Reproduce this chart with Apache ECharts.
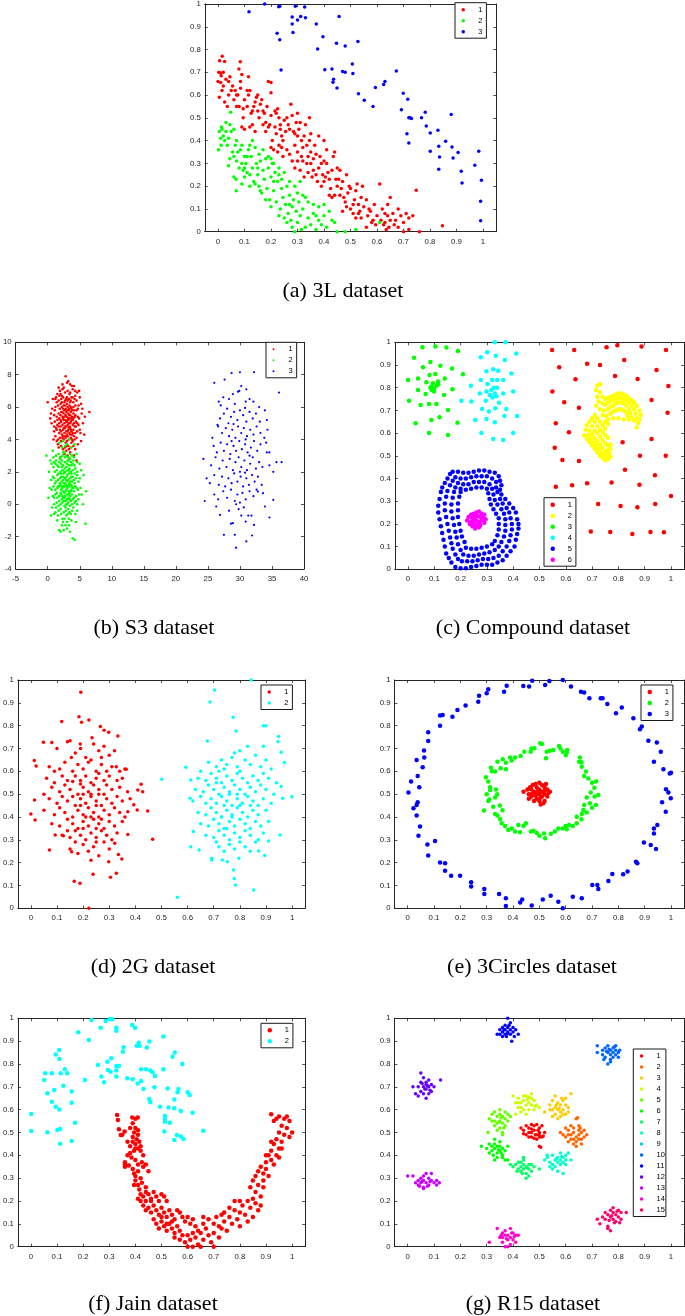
<!DOCTYPE html>
<html>
<head>
<meta charset="utf-8">
<script src="https://cdn.jsdelivr.net/npm/echarts@6/dist/echarts.min.js"></script>
<style>
  html, body { margin: 0; padding: 0; background: #fff; }
  #main { width: 685px; height: 1316px; }
</style>
</head>
<body>
<div id="main"></div>
<script>
// tick labels
var ticks01 = [0, 0.1, 0.2, 0.3, 0.4, 0.5, 0.6, 0.7, 0.8, 0.9, 1];
var s3XTicks = [-5, 0, 5, 10, 15, 20, 25, 30, 35, 40];
var s3YTicks = [-4, -2, 0, 2, 4, 6, 8, 10];

// (a) 3L
var l3Red = [[0.003,0.70],[0.01,0.697],[0.02,0.70],[0.016,0.771],[0.006,0.751],[0.025,0.748],[0.01,0.655],[0.02,0.64],[0.03,0.67],[0.04,0.66],[0.045,0.68],[0.005,0.59],[0.015,0.62],[0.025,0.57],[0.035,0.55],[0.05,0.62],[0.055,0.64],[0.04,0.6],[0.0,0.66],[0.012,0.685],
[0.06,0.58],[0.07,0.55],[0.075,0.6],[0.08,0.55],[0.085,0.66],[0.079,0.714],[0.084,0.746],[0.09,0.69],[0.085,0.63],[0.095,0.5],[0.1,0.45],[0.09,0.46],[0.07,0.6],[0.065,0.62],[0.1,0.58],[0.095,0.54],
[0.11,0.62],[0.115,0.6],[0.12,0.62],[0.125,0.52],[0.13,0.53],[0.14,0.57],[0.145,0.59],[0.115,0.68],[0.135,0.55],[0.14,0.44],[0.15,0.53],[0.13,0.47],[0.11,0.55],[0.15,0.6],[0.12,0.46],
[0.16,0.56],[0.165,0.58],[0.17,0.53],[0.175,0.52],[0.18,0.48],[0.185,0.55],[0.19,0.66],[0.2,0.655],[0.2,0.61],[0.19,0.46],[0.195,0.47],[0.18,0.44],[0.2,0.51],[0.205,0.4],[0.2,0.37],[0.21,0.36],[0.155,0.5],[0.17,0.47],
[0.215,0.53],[0.22,0.52],[0.225,0.54],[0.23,0.5],[0.235,0.47],[0.24,0.42],[0.23,0.38],[0.225,0.35],[0.245,0.33],[0.25,0.49],[0.245,0.4],[0.22,0.43],[0.215,0.46],[0.235,0.45],[0.24,0.37],
[0.26,0.5],[0.265,0.47],[0.27,0.45],[0.275,0.56],[0.28,0.51],[0.285,0.44],[0.29,0.43],[0.29,0.38],[0.3,0.52],[0.295,0.48],[0.3,0.42],[0.26,0.36],[0.27,0.34],[0.28,0.31],[0.255,0.44],[0.29,0.28],[0.3,0.31],[0.305,0.45],[0.3,0.35],
[0.31,0.48],[0.315,0.4],[0.32,0.37],[0.325,0.42],[0.33,0.47],[0.335,0.38],[0.34,0.33],[0.345,0.5],[0.35,0.43],[0.31,0.27],[0.32,0.31],[0.335,0.3],[0.34,0.26],[0.35,0.35],[0.345,0.4],[0.325,0.24],[0.315,0.33],[0.35,0.3],
[0.36,0.32],[0.365,0.38],[0.37,0.25],[0.375,0.22],[0.38,0.28],[0.385,0.33],[0.39,0.3],[0.395,0.25],[0.4,0.22],[0.38,0.42],[0.4,0.4],[0.36,0.27],[0.355,0.24],[0.37,0.34],[0.4,0.31],[0.39,0.2],
[0.41,0.3],[0.415,0.26],[0.42,0.23],[0.425,0.19],[0.43,0.27],[0.435,0.33],[0.44,0.35],[0.445,0.23],[0.45,0.2],[0.41,0.36],[0.42,0.16],[0.43,0.15],[0.44,0.16],[0.405,0.24],[0.45,0.28],
[0.46,0.27],[0.465,0.19],[0.47,0.22],[0.475,0.15],[0.48,0.13],[0.485,0.25],[0.49,0.17],[0.495,0.2],[0.5,0.1],[0.47,0.09],[0.485,0.11],[0.46,0.16],[0.5,0.19],[0.455,0.23],
[0.51,0.12],[0.515,0.14],[0.52,0.18],[0.525,0.21],[0.53,0.12],[0.535,0.09],[0.54,0.06],[0.545,0.2],[0.55,0.11],[0.52,0.06],[0.53,0.08],[0.54,0.15],[0.51,0.08],
[0.56,0.14],[0.565,0.07],[0.57,0.1],[0.58,0.04],[0.585,0.05],[0.59,0.12],[0.6,0.07],[0.595,0.03],[0.56,0.02],[0.575,0.09],
[0.61,0.21],[0.615,0.05],[0.62,0.1],[0.625,0.03],[0.63,0.08],[0.635,0.01],[0.64,0.07],[0.645,0.02],[0.65,0.15],[0.64,0.12],[0.63,0.04],[0.65,0.05],
[0.66,0.08],[0.665,0.03],[0.67,0.05],[0.68,0.1],[0.69,0.07],[0.7,0.04],[0.71,0.08],[0.72,0.01],[0.7,0.0],[0.68,0.02],[0.72,0.06],[0.748,0.182],[0.76,0.0],[0.847,0.026],[0.735,0.07]];
var l3Green = [[0.002,0.36],[0.01,0.41],[0.005,0.44],[0.015,0.45],[0.012,0.38],[0.02,0.42],[0.025,0.4],[0.03,0.44],[0.035,0.38],[0.04,0.41],[0.048,0.525],[0.05,0.44],[0.045,0.32],[0.055,0.35],[0.06,0.33],[0.065,0.38],[0.068,0.23],[0.07,0.31],[0.075,0.35],[0.08,0.28],[0.085,0.36],[0.09,0.3],[0.095,0.27],[0.1,0.33],[0.1,0.24],[0.105,0.3],[0.11,0.26],[0.115,0.36],[0.12,0.25],[0.125,0.33],[0.13,0.28],[0.135,0.22],[0.14,0.37],[0.145,0.3],[0.15,0.25],[0.155,0.2],[0.16,0.31],[0.165,0.17],[0.17,0.27],[0.175,0.23],[0.18,0.32],[0.185,0.19],[0.19,0.28],[0.195,0.14],[0.2,0.24],[0.205,0.3],[0.21,0.18],[0.215,0.26],[0.22,0.13],[0.225,0.22],[0.23,0.28],[0.235,0.1],[0.24,0.19],[0.245,0.15],[0.25,0.06],[0.255,0.12],[0.26,0.2],[0.265,0.08],[0.27,0.16],[0.275,0.05],[0.28,0.11],[0.285,0.14],[0.29,0.0],[0.295,0.09],[0.3,0.04],[0.305,0.13],[0.31,0.07],[0.315,0.01],[0.32,0.1],[0.33,0.02],[0.34,0.06],[0.35,0.03],[0.36,0.08],[0.37,0.01],[0.38,0.05],[0.39,0.03],[0.4,0.07],[0.41,0.02],[0.45,0.0],[0.44,0.04],[0.43,0.05],[0.48,0.0],[0.52,0.01],[0.61,0.04],[0.03,0.48],[0.013,0.46],[0.06,0.45],[0.045,0.47],[0.07,0.4],[0.09,0.38],[0.11,0.33],[0.12,0.38],[0.13,0.4],[0.155,0.34],[0.17,0.36],[0.19,0.33],[0.2,0.32],[0.21,0.3],[0.23,0.25],[0.25,0.26],[0.27,0.22],[0.29,0.2],[0.3,0.17],[0.32,0.16],[0.33,0.15],[0.36,0.12],[0.38,0.11],[0.4,0.12],[0.42,0.09],[0.26,0.04],[0.23,0.07],[0.2,0.11],[0.18,0.14],[0.16,0.18],[0.14,0.21],[0.12,0.2],[0.09,0.21],[0.06,0.24],[0.04,0.29],[0.069,0.18],[0.28,0.02],[0.31,0.22],[0.34,0.13],[0.37,0.07],[0.21,0.22],[0.24,0.23],[0.27,0.12],[0.15,0.28],[0.1,0.28]];
var l3Blue = [[0.176,1.0],[0.229,0.988],[0.233,0.99],[0.292,0.99],[0.327,0.987],[0.117,0.966],[0.28,0.943],[0.312,0.945],[0.33,0.94],[0.3,0.93],[0.28,0.912],[0.457,0.945],[0.371,0.912],[0.283,0.875],[0.223,0.872],[0.233,0.843],[0.396,0.856],[0.447,0.828],[0.48,0.815],[0.528,0.835],[0.376,0.802],[0.507,0.736],[0.403,0.711],[0.43,0.714],[0.47,0.704],[0.48,0.7],[0.509,0.695],[0.238,0.71],[0.436,0.67],[0.434,0.656],[0.449,0.631],[0.673,0.706],[0.63,0.66],[0.625,0.646],[0.594,0.633],[0.53,0.606],[0.552,0.577],[0.585,0.55],[0.699,0.608],[0.716,0.582],[0.692,0.536],[0.72,0.5],[0.725,0.5],[0.73,0.497],[0.713,0.43],[0.72,0.39],[0.768,0.5],[0.782,0.525],[0.786,0.464],[0.801,0.434],[0.83,0.445],[0.88,0.515],[0.859,0.397],[0.833,0.375],[0.801,0.353],[0.883,0.372],[0.836,0.328],[0.887,0.324],[0.906,0.348],[0.833,0.274],[0.984,0.353],[0.969,0.292],[0.918,0.265],[0.921,0.214],[0.994,0.226],[0.991,0.134],[0.991,0.048]];

// (b) S3
var s3Red = [[2.8,7.9],[3.2,7.6],[3.8,7.3],[3.5,7.4],[2.5,7.2],[3.0,7.5],
[1.9,7.0],[2.3,7.1],[2.7,6.9],[3.1,7.0],[3.5,6.9],[3.9,7.1],[4.3,7.0],[4.6,6.9],[1.5,6.8],[2.0,6.8],
[0.8,6.5],[1.3,6.6],[1.7,6.4],[2.1,6.5],[2.4,6.6],[2.7,6.4],[3.0,6.6],[3.3,6.5],[3.6,6.4],[3.9,6.6],[4.2,6.5],[4.5,6.4],[5.0,6.6],[2.2,6.3],[3.5,6.3],
[0.0,6.3],[0.7,5.9],[1.2,6.0],[1.6,6.1],[1.9,5.9],[2.2,6.0],[2.5,6.1],[2.8,5.9],[3.1,6.0],[3.4,6.1],[3.7,5.9],[4.0,6.0],[4.3,6.1],[4.7,5.9],[5.2,6.2],[2.0,6.2],[3.0,6.2],[2.6,5.8],[3.3,5.8],[4.1,5.8],
[1.0,5.5],[1.4,5.4],[1.7,5.6],[2.0,5.5],[2.3,5.4],[2.5,5.6],[2.8,5.5],[3.0,5.4],[3.2,5.6],[3.5,5.5],[3.8,5.4],[4.0,5.6],[4.3,5.5],[4.7,5.4],[5.3,5.6],[6.5,5.7],[2.1,5.7],[2.9,5.7],[3.6,5.7],[2.4,5.3],[3.4,5.3],
[0.6,5.0],[1.1,5.1],[1.5,4.9],[1.8,5.0],[2.1,5.1],[2.3,4.9],[2.6,5.0],[2.9,5.1],[3.1,4.9],[3.3,5.0],[3.6,5.1],[3.9,4.9],[4.1,5.0],[4.4,5.1],[4.8,4.9],[5.5,5.0],[2.0,4.8],[2.7,4.8],[3.4,4.8],[4.2,4.8],[2.5,5.2],[3.2,5.2],[3.8,5.2],
[1.0,4.5],[1.4,4.6],[1.8,4.4],[2.1,4.5],[2.4,4.6],[2.6,4.4],[2.9,4.5],[3.2,4.6],[3.4,4.4],[3.7,4.5],[4.0,4.6],[4.3,4.4],[4.6,4.5],[5.0,4.6],[5.7,4.3],[2.2,4.3],[3.0,4.3],[3.8,4.3],[2.7,4.7],[3.5,4.7],
[1.2,4.2],[1.6,4.0],[1.9,4.1],[2.2,3.9],[2.5,4.0],[2.8,4.1],[3.0,3.9],[3.3,4.0],[3.6,4.1],[3.9,3.9],[4.2,4.0],[4.5,4.1],[2.4,4.2],[3.1,4.2],[3.7,3.8],
[1.7,3.5],[2.1,3.6],[2.4,3.4],[2.7,3.5],[3.0,3.6],[3.3,3.4],[3.6,3.5],[4.0,3.6],[4.3,3.4],[2.9,3.3],
[2.0,2.9],[2.6,3.1],[3.1,3.0],[3.5,3.2],[4.1,3.0],[4.5,2.7],[3.4,2.8],
[0.4,5.3],[0.9,4.0],[1.1,5.8],[1.3,4.7],[1.4,6.3],[1.5,5.2],[1.6,3.7],[1.7,4.8],[1.8,5.3],[1.8,6.7],[1.9,4.6],[2.0,5.2],[2.1,3.9],[2.2,6.7],[2.3,5.7],[2.3,4.1],[2.4,5.9],[2.5,4.7],[2.6,5.4],[2.6,6.3],[2.7,4.2],[2.7,6.1],[2.8,5.2],[2.8,3.8],[2.9,4.8],[2.9,6.5],[3.0,5.1],[3.0,5.8],[3.1,4.5],[3.1,6.4],[3.2,5.3],[3.2,3.6],[3.3,5.9],[3.3,4.7],[3.4,5.5],[3.4,6.8],[3.5,4.3],[3.5,5.0],[3.6,6.0],[3.6,4.6],[3.7,5.3],[3.7,6.6],[3.8,4.0],[3.8,5.8],[3.9,5.2],[3.9,4.4],[4.0,6.3],[4.0,5.3],[4.1,4.2],[4.2,5.4],[4.3,6.7],[4.4,4.8],[4.5,5.8],[4.6,5.0],[4.8,6.1],[4.9,5.3],[5.1,4.4],[5.4,5.9],[5.8,5.4],[0.5,5.6],[1.2,6.5],[1.0,4.8],[4.7,3.7],[5.2,3.9],[1.4,3.9],[2.3,7.4],[4.1,7.3],[1.7,7.2],[4.9,7.0]];
var s3Green = [[1.8,3.8],[2.4,3.9],[3.0,3.7],[3.4,4.0],[2.2,3.5],[2.7,3.6],[3.7,3.5],[4.2,3.7],
[-0.2,3.0],[0.9,2.9],[1.3,3.0],[1.7,3.1],[2.0,2.9],[2.3,3.0],[2.6,3.2],[2.9,3.0],[3.2,2.9],[3.5,3.1],[3.8,3.0],[4.1,2.9],[4.5,3.1],[1.0,2.6],[0.6,2.5],
[1.2,2.5],[1.5,2.4],[1.8,2.6],[2.1,2.5],[2.4,2.4],[2.7,2.6],[3.0,2.5],[3.3,2.4],[3.6,2.6],[3.9,2.5],[4.2,2.4],[4.6,2.6],[2.2,2.7],[3.2,2.7],
[0.8,1.7],[1.1,2.0],[1.4,2.1],[1.7,1.9],[2.0,2.0],[2.3,2.1],[2.5,1.9],[2.8,2.0],[3.1,2.1],[3.3,1.9],[3.6,2.0],[3.9,2.1],[4.2,1.9],[4.6,2.0],[5.6,1.8],[5.2,2.1],[2.6,2.2],[3.4,2.2],
[0.5,1.5],[1.0,1.6],[1.3,1.4],[1.6,1.5],[1.9,1.6],[2.2,1.4],[2.4,1.5],[2.7,1.6],[3.0,1.4],[3.2,1.5],[3.5,1.6],[3.8,1.4],[4.1,1.5],[4.4,1.6],[4.8,1.4],[2.1,1.7],[2.9,1.7],[3.7,1.7],[2.5,1.3],[3.4,1.3],
[0.3,1.0],[0.9,1.1],[1.2,0.9],[1.5,1.0],[1.8,1.1],[2.1,0.9],[2.3,1.0],[2.6,1.1],[2.9,0.9],[3.1,1.0],[3.4,1.1],[3.7,0.9],[4.0,1.0],[4.3,1.1],[4.7,0.9],[5.1,1.0],[2.0,1.2],[2.8,1.2],[3.6,1.2],[2.4,0.8],[3.3,0.8],
[0.1,0.4],[0.8,0.5],[1.2,0.6],[1.5,0.4],[1.8,0.5],[2.1,0.6],[2.4,0.4],[2.7,0.5],[3.0,0.6],[3.2,0.4],[3.5,0.5],[3.8,0.6],[4.1,0.4],[4.4,0.5],[4.9,0.6],[6.0,0.8],[2.6,0.7],[3.4,0.7],[2.2,0.3],[3.0,0.3],
[0.5,-0.7],[1.0,0.0],[1.4,0.1],[1.7,-0.1],[2.0,0.0],[2.3,0.1],[2.6,-0.1],[2.9,0.0],[3.2,0.1],[3.5,-0.1],[3.8,0.0],[4.2,0.1],[4.6,0.0],[5.5,0.0],[2.8,0.2],[3.6,0.2],
[1.2,-0.5],[1.7,-0.4],[2.1,-0.6],[2.5,-0.5],[2.8,-0.4],[3.1,-0.6],[3.4,-0.5],[3.8,-0.4],[4.3,-0.6],[2.9,-0.7],
[1.5,-1.0],[2.2,-1.3],[2.6,-0.9],[3.0,-1.1],[3.3,-0.9],[3.7,-1.0],[4.4,-1.1],[5.9,-1.2],[2.8,-1.3],
[1.8,-1.6],[2.0,-1.7],[3.5,-1.7],[3.0,-1.5],[4.2,-2.2],[3.9,-2.1],[2.5,-1.6],
[0.2,2.0],[0.4,2.7],[0.6,0.9],[0.7,-0.2],[0.9,2.3],[1.0,0.4],[1.1,1.3],[1.3,2.7],[1.3,-0.2],[1.4,0.7],[1.5,1.8],[1.6,-0.7],[1.6,1.1],[1.7,2.3],[1.8,0.2],[1.9,1.3],[1.9,2.8],[2.0,0.7],[2.0,-0.3],[2.1,1.9],[2.2,1.1],[2.2,2.3],[2.3,0.5],[2.3,-0.9],[2.4,1.7],[2.4,3.2],[2.5,0.2],[2.5,1.1],[2.6,2.0],[2.6,0.4],[2.7,1.3],[2.7,2.9],[2.8,0.8],[2.8,-0.2],[2.9,1.5],[2.9,2.3],[3.0,0.0],[3.0,1.1],[3.1,1.8],[3.1,2.7],[3.2,0.6],[3.2,-0.3],[3.3,1.2],[3.3,2.1],[3.4,0.3],[3.5,1.4],[3.5,2.8],[3.6,0.8],[3.6,-0.6],[3.7,1.9],[3.7,2.4],[3.8,1.1],[3.9,0.3],[3.9,1.7],[4.0,2.7],[4.0,-0.2],[4.1,0.8],[4.2,1.3],[4.3,2.2],[4.4,0.2],[4.5,1.0],[4.6,1.8],[4.8,0.3],[5.0,1.6],[5.3,0.6],[5.0,2.5],[0.8,3.3],[4.6,-0.4],[1.0,-0.6],[3.3,-1.3],[2.4,-1.1]];
var s3Blue = [[27.4,6.6],[28.3,6.5],[28.9,6.8],[29.7,6.95],[30.2,7.3],[30.9,6.34],[32.1,6.34],[31.5,6.5],[29.2,6.2],[27.0,6.1],[33.0,6.0],[26.7,6.34],[28.7,8.1],[30.0,8.15],[32.2,8.15],[26.0,7.5],[27.6,7.7],[36.1,6.9],[29.9,7.0],[31.0,7.1],
[26.9,5.3],[27.5,5.6],[28.0,5.9],[28.6,5.4],[29.1,5.7],[29.6,5.2],[30.0,5.8],[30.5,5.5],[31.0,5.1],[31.5,5.7],[32.0,5.3],[32.5,5.6],[33.1,5.1],[33.9,5.8],[34.2,5.2],[28.2,5.0],[30.8,5.95],[26.5,4.9],
[25.7,4.1],[26.6,4.8],[27.2,4.4],[27.8,4.7],[28.3,4.2],[28.8,4.6],[29.3,4.1],[29.7,4.8],[30.2,4.4],[30.6,4.7],[31.1,4.2],[31.6,4.6],[32.1,4.3],[32.6,4.8],[33.2,4.4],[33.8,4.1],[34.3,4.6],[29.0,4.95],[30.9,4.0],
[25.9,3.6],[26.4,3.2],[27.0,3.8],[27.5,3.3],[28.0,3.7],[28.5,3.1],[29.0,3.6],[29.4,3.3],[29.9,3.9],[30.3,3.4],[30.8,3.7],[31.2,3.2],[31.7,3.5],[32.2,3.9],[32.7,3.3],[33.2,3.7],[34.2,3.2],[34.6,3.2],[34.1,3.8],[28.7,3.9],[31.5,3.0],
[24.3,2.8],[25.5,2.4],[26.2,2.9],[26.8,2.2],[27.3,2.7],[27.9,2.3],[28.4,2.8],[28.9,2.1],[29.3,2.6],[29.8,2.9],[30.2,2.3],[30.7,2.7],[31.1,2.1],[31.6,2.5],[32.0,2.9],[32.5,2.2],[33.0,2.6],[33.5,2.3],[34.6,2.4],[35.7,2.6],[36.5,2.6],[35.2,2.0],[30.0,2.0],
[24.8,1.6],[25.3,1.3],[26.0,1.8],[26.7,1.2],[27.2,1.7],[27.7,1.1],[28.2,1.6],[28.7,1.3],[29.1,1.9],[29.6,1.4],[30.1,1.7],[30.5,1.1],[31.0,1.6],[31.4,1.2],[31.9,1.8],[32.3,1.4],[32.8,1.7],[33.4,1.2],[30.8,1.95],
[24.5,0.2],[26.0,0.6],[26.6,0.3],[27.4,0.8],[28.0,0.4],[28.6,0.9],[29.2,0.2],[29.6,0.6],[30.0,0.1],[30.4,0.7],[30.9,0.3],[31.5,0.8],[32.1,0.5],[32.6,0.9],[33.6,0.68],[32.8,0.78],[35.2,0.27],[29.4,0.0],
[26.3,-0.14],[26.9,-0.66],[28.9,-1.17],[27.5,-1.89],[29.2,-1.89],[29.4,-2.68],[31.0,-2.3],[31.9,-1.93],[32.2,-1.28],[30.9,-1.07],[30.2,-0.7],[31.3,-0.7],[31.8,-0.7],[33.9,-0.14],[34.6,-0.82],[28.3,-0.4],[29.8,-0.3],[30.6,-0.2],[28.6,-1.2]];

// (c) Compound
var cmp1 = [[0.548,0.966],[0.632,0.966],[0.755,0.978],[0.796,0.987],[0.888,0.981],[0.981,0.966],[0.575,0.89],[0.681,0.905],[0.73,0.9],[0.822,0.922],[0.787,0.852],[0.637,0.837],[0.873,0.838],[0.945,0.878],[0.549,0.783],[0.99,0.808],[0.594,0.736],[0.65,0.712],[0.926,0.746],[0.987,0.69],[0.562,0.643],[0.612,0.604],[0.558,0.536],[0.816,0.56],[0.926,0.574],[0.587,0.482],[0.65,0.477],[0.882,0.5],[0.98,0.5],[0.825,0.438],[0.939,0.414],[0.562,0.364],[0.624,0.37],[0.681,0.379],[0.774,0.382],[0.88,0.372],[1.0,0.323],[0.723,0.288],[0.808,0.279],[0.872,0.273],[0.94,0.288],[0.695,0.167],[0.769,0.164],[0.853,0.156],[0.922,0.164],[0.973,0.163]];
var cmp2 = [[0.72,0.81],[0.73,0.815],[0.715,0.79],[0.73,0.78],[0.74,0.76],[0.75,0.75],[0.76,0.755],[0.77,0.76],[0.78,0.765],[0.79,0.77],[0.80,0.775],[0.81,0.775],[0.82,0.77],[0.83,0.765],[0.84,0.755],[0.85,0.745],[0.86,0.735],[0.87,0.72],[0.88,0.70],[0.885,0.68],[0.88,0.66],
[0.72,0.76],[0.725,0.74],[0.74,0.73],[0.75,0.725],[0.76,0.735],[0.77,0.74],[0.78,0.745],[0.79,0.75],[0.80,0.755],[0.81,0.755],[0.82,0.75],[0.83,0.745],[0.84,0.735],[0.85,0.72],[0.86,0.705],[0.865,0.685],[0.87,0.665],[0.875,0.645],
[0.715,0.72],[0.73,0.705],[0.745,0.70],[0.76,0.705],[0.77,0.715],[0.78,0.72],[0.79,0.73],[0.80,0.735],[0.81,0.735],[0.82,0.73],[0.83,0.72],[0.84,0.705],[0.845,0.69],[0.85,0.67],[0.86,0.655],[0.87,0.625],
[0.74,0.68],[0.755,0.675],[0.77,0.685],[0.78,0.695],[0.79,0.70],[0.80,0.705],[0.81,0.705],[0.82,0.70],[0.83,0.69],[0.835,0.675],[0.84,0.66],[0.80,0.665],[0.78,0.665],[0.76,0.66],[0.82,0.66],
[0.71,0.68],[0.70,0.665],[0.69,0.65],[0.68,0.635],[0.675,0.615],[0.67,0.59],[0.68,0.575],[0.69,0.56],[0.70,0.545],[0.71,0.53],[0.72,0.515],[0.73,0.50],[0.74,0.49],[0.75,0.48],[0.76,0.485],[0.77,0.495],
[0.72,0.665],[0.71,0.65],[0.70,0.63],[0.69,0.61],[0.685,0.59],[0.695,0.575],[0.705,0.56],[0.715,0.545],[0.725,0.53],[0.735,0.515],[0.745,0.505],[0.755,0.50],[0.765,0.51],
[0.73,0.65],[0.72,0.63],[0.71,0.61],[0.70,0.595],[0.71,0.58],[0.72,0.565],[0.73,0.55],[0.74,0.535],[0.75,0.52],[0.76,0.525],[0.77,0.53],
[0.74,0.635],[0.73,0.615],[0.72,0.60],[0.73,0.585],[0.74,0.57],[0.75,0.555],[0.76,0.545],[0.77,0.55],[0.75,0.62],[0.74,0.605],[0.75,0.59],[0.76,0.58],[0.76,0.64],[0.75,0.65]];
var cmp3 = [[0.055,0.978],[0.104,0.981],[0.146,0.977],[0.19,0.962],[0.023,0.932],[0.085,0.913],[0.123,0.897],[0.057,0.89],[0.167,0.885],[0.0,0.834],[0.038,0.841],[0.082,0.856],[0.104,0.86],[0.14,0.841],[0.209,0.859],[0.07,0.824],[0.095,0.82],[0.114,0.827],[0.089,0.805],[0.095,0.793],[0.099,0.783],[0.09,0.79],[0.038,0.79],[0.067,0.772],[0.169,0.793],[0.137,0.768],[0.004,0.742],[0.048,0.724],[0.08,0.728],[0.108,0.728],[0.152,0.702],[0.12,0.67],[0.089,0.658],[0.029,0.643],[0.188,0.646],[0.08,0.6],[0.152,0.592],[0.11,0.81],[0.1,0.8],[0.085,0.8],[0.115,0.815]];
var cmp4 = [[0.33,1.0],[0.371,1.0],[0.301,0.956],[0.277,0.934],[0.334,0.941],[0.412,0.951],[0.368,0.922],[0.298,0.872],[0.324,0.881],[0.343,0.875],[0.393,0.863],[0.277,0.834],[0.302,0.816],[0.32,0.834],[0.339,0.834],[0.362,0.834],[0.239,0.809],[0.273,0.775],[0.298,0.783],[0.317,0.79],[0.326,0.8],[0.311,0.768],[0.321,0.757],[0.33,0.775],[0.339,0.8],[0.336,0.762],[0.4,0.783],[0.362,0.775],[0.203,0.743],[0.241,0.739],[0.296,0.743],[0.346,0.734],[0.282,0.706],[0.332,0.709],[0.308,0.695],[0.374,0.706],[0.415,0.675],[0.367,0.675],[0.298,0.662],[0.256,0.658],[0.33,0.648],[0.4,0.6],[0.279,0.6],[0.324,0.574],[0.362,0.57]];
var cmp5 = [[0.17,0.43],[0.19,0.43],[0.21,0.425],[0.23,0.425],[0.25,0.43],[0.27,0.435],[0.29,0.435],[0.31,0.43],[0.33,0.425],[0.345,0.41],[0.35,0.39],[0.355,0.37],[0.35,0.35],[0.355,0.33],[0.37,0.31],[0.385,0.29],[0.40,0.27],[0.41,0.25],[0.415,0.22],[0.42,0.2],[0.42,0.18],[0.415,0.155],[0.41,0.13],[0.405,0.1],[0.39,0.08],[0.375,0.06],[0.36,0.04],[0.34,0.03],[0.32,0.02],[0.30,0.02],[0.28,0.02],[0.26,0.015],[0.24,0.01],[0.22,0.005],[0.2,0.005],[0.18,0.01],[0.165,0.03],[0.155,0.05],[0.145,0.07],[0.14,0.1],[0.135,0.13],[0.13,0.16],[0.125,0.19],[0.12,0.22],[0.115,0.25],[0.115,0.28],[0.12,0.31],[0.125,0.34],[0.13,0.36],[0.14,0.38],[0.15,0.40],[0.16,0.42],
[0.18,0.405],[0.2,0.4],[0.22,0.4],[0.24,0.405],[0.26,0.41],[0.28,0.41],[0.30,0.41],[0.32,0.4],[0.335,0.385],[0.335,0.36],[0.34,0.34],[0.35,0.31],[0.36,0.29],[0.375,0.27],[0.385,0.25],[0.39,0.225],[0.395,0.2],[0.395,0.175],[0.39,0.15],[0.385,0.125],[0.375,0.1],[0.36,0.08],[0.345,0.06],[0.325,0.05],[0.305,0.045],[0.285,0.045],[0.265,0.04],[0.245,0.035],[0.225,0.035],[0.205,0.035],[0.19,0.045],[0.18,0.065],[0.17,0.09],[0.165,0.115],[0.16,0.14],[0.155,0.17],[0.15,0.2],[0.145,0.23],[0.14,0.26],[0.14,0.29],[0.145,0.32],[0.15,0.345],[0.16,0.37],[0.17,0.39],
[0.19,0.38],[0.21,0.375],[0.23,0.375],[0.25,0.385],[0.27,0.385],[0.29,0.385],[0.31,0.375],[0.32,0.355],[0.325,0.33],[0.33,0.305],[0.34,0.285],[0.355,0.265],[0.365,0.245],[0.37,0.22],[0.37,0.195],[0.37,0.17],[0.365,0.145],[0.355,0.12],[0.345,0.1],[0.33,0.085],[0.31,0.075],[0.29,0.07],[0.27,0.065],[0.25,0.06],[0.23,0.06],[0.21,0.065],[0.2,0.085],[0.19,0.11],[0.185,0.14],[0.18,0.165],[0.175,0.195],[0.17,0.225],[0.165,0.255],[0.165,0.285],[0.17,0.315],[0.175,0.34],[0.18,0.36],
[0.2,0.355],[0.22,0.35],[0.24,0.355],[0.26,0.36],[0.28,0.36],[0.3,0.355],[0.305,0.335],[0.31,0.31],[0.315,0.285],[0.325,0.265],[0.335,0.245],[0.345,0.225],[0.345,0.2],[0.345,0.175],[0.34,0.15],[0.33,0.125],[0.32,0.11],[0.3,0.1],[0.28,0.095],[0.26,0.09],[0.24,0.09],[0.22,0.095],[0.215,0.12],[0.205,0.145],[0.2,0.17],[0.195,0.2],[0.19,0.23],[0.19,0.26],[0.19,0.29],[0.195,0.32],[0.2,0.34]];
var cmp6 = [[0.24,0.24],[0.25,0.245],[0.26,0.25],[0.27,0.255],[0.28,0.245],[0.29,0.24],[0.23,0.23],[0.245,0.225],[0.255,0.23],[0.265,0.235],[0.275,0.23],[0.285,0.225],[0.295,0.22],[0.225,0.215],[0.24,0.21],[0.25,0.215],[0.26,0.215],[0.27,0.21],[0.28,0.215],[0.29,0.205],[0.235,0.2],[0.25,0.2],[0.265,0.2],[0.275,0.195],[0.245,0.19],[0.26,0.19],[0.27,0.185],[0.255,0.18]];

// (d) 2G
var g2Red = [[0.0,0.413],[0.191,0.946],[0.118,0.818],[0.184,0.839],[0.222,0.825],[0.194,0.815],[0.266,0.796],[0.298,0.771],[0.28,0.78],[0.333,0.755],[0.048,0.727],[0.08,0.726],[0.234,0.747],[0.15,0.734],[0.189,0.72],[0.013,0.647],[0.02,0.623],[0.365,0.609],[0.327,0.62],[0.422,0.543],[0.409,0.518],[0.428,0.511],[0.447,0.426],[0.466,0.302],[0.394,0.454],[0.407,0.431],[0.371,0.423],[0.014,0.474],[0.016,0.387],[0.071,0.255],[0.093,0.321],[0.124,0.318],[0.156,0.248],[0.166,0.118],[0.188,0.11],[0.238,0.149],[0.305,0.136],[0.327,0.153],[0.222,0.0],[0.298,0.204],[0.335,0.236],[0.348,0.216],[0.321,0.285],[0.371,0.323],
[0.1,0.7],[0.14,0.73],[0.17,0.68],[0.19,0.7],[0.21,0.66],[0.24,0.72],[0.26,0.69],[0.28,0.71],[0.3,0.67],[0.32,0.69],[0.155,0.66],[0.23,0.65],[0.27,0.66],
[0.07,0.62],[0.11,0.61],[0.13,0.64],[0.16,0.6],[0.18,0.63],[0.2,0.61],[0.22,0.64],[0.25,0.6],[0.27,0.63],[0.29,0.6],[0.31,0.62],[0.34,0.6],[0.36,0.61],[0.09,0.6],
[0.06,0.57],[0.09,0.55],[0.12,0.58],[0.14,0.56],[0.17,0.58],[0.19,0.56],[0.21,0.58],[0.23,0.55],[0.25,0.57],[0.28,0.56],[0.3,0.58],[0.33,0.56],[0.35,0.57],[0.16,0.555],[0.26,0.59],
[0.08,0.53],[0.11,0.51],[0.13,0.54],[0.15,0.52],[0.18,0.5],[0.2,0.53],[0.22,0.51],[0.24,0.54],[0.26,0.52],[0.28,0.5],[0.29,0.54],[0.31,0.52],[0.34,0.53],[0.37,0.51],[0.05,0.5],[0.19,0.545],[0.23,0.5],
[0.07,0.48],[0.1,0.46],[0.12,0.49],[0.14,0.47],[0.17,0.45],[0.19,0.48],[0.21,0.46],[0.23,0.49],[0.25,0.47],[0.27,0.45],[0.29,0.48],[0.31,0.46],[0.33,0.49],[0.35,0.47],[0.38,0.48],[0.2,0.5],[0.26,0.5],[0.16,0.49],
[0.05,0.43],[0.09,0.41],[0.11,0.44],[0.13,0.42],[0.16,0.4],[0.18,0.43],[0.2,0.41],[0.22,0.44],[0.24,0.42],[0.26,0.4],[0.28,0.43],[0.3,0.41],[0.32,0.44],[0.34,0.42],[0.36,0.4],[0.19,0.45],[0.25,0.45],[0.23,0.4],
[0.08,0.37],[0.11,0.36],[0.14,0.39],[0.16,0.37],[0.18,0.35],[0.2,0.38],[0.22,0.36],[0.24,0.39],[0.26,0.37],[0.28,0.35],[0.3,0.38],[0.32,0.36],[0.35,0.38],[0.21,0.4],[0.27,0.39],[0.25,0.35],
[0.12,0.32],[0.15,0.31],[0.17,0.34],[0.19,0.32],[0.21,0.3],[0.23,0.33],[0.25,0.31],[0.27,0.34],[0.29,0.32],[0.31,0.3],[0.33,0.33],[0.2,0.35],[0.14,0.34],
[0.15,0.26],[0.18,0.24],[0.2,0.28],[0.22,0.25],[0.24,0.27],[0.26,0.23],[0.28,0.29],[0.3,0.26],[0.17,0.29],[0.23,0.21],[0.25,0.29]];
var g2Cyan = [[0.843,1.0],[0.703,0.956],[0.686,0.904],[0.774,0.837],[0.786,0.777],[0.676,0.733],[0.89,0.8],[0.9,0.8],[0.948,0.752],[0.946,0.73],[0.958,0.683],[0.971,0.639],[0.999,0.489],[0.964,0.482],[0.958,0.533],[0.593,0.618],[0.612,0.562],[0.501,0.565],[0.609,0.482],[0.622,0.336],[0.612,0.27],[0.644,0.255],[0.561,0.048],[0.853,0.08],[0.783,0.102],[0.779,0.131],[0.776,0.168],[0.954,0.321],[0.91,0.295],[0.895,0.231],[0.872,0.251],[0.796,0.219],[0.752,0.204],[0.733,0.212],[0.692,0.212],[0.692,0.219],
[0.68,0.64],[0.71,0.62],[0.73,0.65],[0.75,0.63],[0.77,0.66],[0.79,0.62],[0.8,0.69],[0.82,0.65],[0.84,0.63],[0.86,0.67],[0.88,0.62],[0.9,0.65],[0.92,0.61],[0.78,0.68],[0.74,0.61],[0.65,0.6],[0.83,0.71],[0.89,0.71],
[0.64,0.57],[0.67,0.56],[0.69,0.59],[0.71,0.57],[0.73,0.55],[0.75,0.58],[0.77,0.56],[0.79,0.59],[0.81,0.57],[0.83,0.55],[0.85,0.58],[0.87,0.56],[0.89,0.59],[0.91,0.57],[0.94,0.55],[0.72,0.6],[0.8,0.6],
[0.63,0.52],[0.66,0.51],[0.68,0.54],[0.7,0.52],[0.72,0.5],[0.74,0.53],[0.76,0.51],[0.78,0.54],[0.8,0.52],[0.82,0.5],[0.84,0.53],[0.86,0.51],[0.88,0.54],[0.9,0.52],[0.93,0.5],[0.71,0.55],[0.79,0.5],
[0.62,0.47],[0.65,0.49],[0.67,0.46],[0.69,0.48],[0.71,0.46],[0.73,0.49],[0.75,0.47],[0.77,0.45],[0.79,0.48],[0.81,0.46],[0.83,0.49],[0.85,0.47],[0.87,0.45],[0.89,0.48],[0.92,0.46],[0.76,0.5],[0.84,0.45],
[0.64,0.42],[0.67,0.41],[0.69,0.44],[0.71,0.42],[0.73,0.4],[0.75,0.43],[0.77,0.41],[0.79,0.44],[0.81,0.42],[0.83,0.4],[0.85,0.43],[0.87,0.41],[0.9,0.43],[0.74,0.45],[0.8,0.45],
[0.65,0.37],[0.68,0.36],[0.7,0.39],[0.72,0.37],[0.74,0.35],[0.76,0.38],[0.78,0.36],[0.8,0.39],[0.82,0.37],[0.84,0.35],[0.86,0.38],[0.88,0.36],[0.91,0.38],[0.77,0.4],[0.73,0.4],
[0.67,0.32],[0.7,0.31],[0.72,0.34],[0.74,0.32],[0.76,0.3],[0.78,0.33],[0.8,0.31],[0.82,0.34],[0.84,0.32],[0.87,0.3],[0.89,0.33],[0.75,0.35],[0.71,0.29],
[0.72,0.27],[0.74,0.25],[0.76,0.28],[0.78,0.26],[0.8,0.29],[0.82,0.27],[0.84,0.25],[0.86,0.29]];

// (e) 3Circles
var circ1 = [[0.44,0.51],[0.46,0.5],[0.46,0.48],[0.47,0.52],[0.47,0.49],[0.475,0.54],[0.48,0.51],[0.48,0.47],[0.49,0.53],[0.49,0.5],[0.49,0.48],[0.5,0.55],[0.5,0.52],[0.5,0.5],[0.5,0.47],[0.51,0.54],[0.51,0.51],[0.51,0.49],[0.52,0.53],[0.52,0.5],[0.52,0.47],[0.53,0.52],[0.53,0.49],[0.54,0.51],[0.515,0.46],[0.505,0.455],[0.485,0.545],[0.465,0.53],[0.525,0.545],[0.495,0.515],[0.505,0.485],[0.485,0.495],[0.535,0.505],[0.47,0.5],[0.455,0.52],[0.52,0.515]];
var circ2 = [[0.29,0.428],[0.297,0.574],[0.306,0.555],[0.316,0.616],[0.332,0.599],[0.313,0.53],[0.306,0.47],[0.335,0.52],[0.34,0.5],[0.332,0.485],[0.313,0.518],[0.31,0.477],[0.325,0.445],[0.332,0.413],[0.341,0.406],[0.351,0.391],[0.357,0.372],[0.37,0.361],[0.382,0.343],[0.395,0.35],[0.408,0.336],[0.427,0.333],[0.42,0.365],[0.449,0.372],[0.468,0.336],[0.478,0.34],[0.5,0.318],[0.518,0.328],[0.522,0.307],[0.544,0.326],[0.559,0.336],[0.572,0.35],[0.589,0.35],[0.604,0.346],[0.613,0.365],[0.627,0.361],[0.642,0.372],[0.642,0.401],[0.661,0.413],[0.667,0.431],[0.67,0.453],[0.692,0.46],[0.715,0.453],[0.68,0.485],[0.695,0.507],[0.724,0.496],[0.709,0.528],[0.715,0.555],[0.686,0.569],[0.677,0.599],[0.661,0.62],[0.651,0.642],[0.654,0.661],[0.66,0.64],[0.604,0.682],[0.589,0.686],[0.606,0.693],[0.575,0.711],[0.553,0.693],[0.528,0.686],[0.54,0.69],[0.525,0.657],[0.503,0.723],[0.51,0.72],[0.481,0.701],[0.467,0.686],[0.443,0.686],[0.429,0.667],[0.408,0.661],[0.389,0.661],[0.373,0.638],[0.395,0.647],[0.361,0.653],[0.341,0.642],[0.353,0.613],[0.373,0.609],[0.6,0.67],[0.67,0.58],[0.7,0.55],[0.7,0.44],[0.68,0.42],[0.66,0.39],[0.47,0.7],[0.44,0.36],[0.36,0.43],[0.35,0.45],[0.32,0.6],[0.58,0.7],[0.49,0.33],[0.6,0.36],[0.71,0.49],[0.3,0.5]];
var circ3 = [[0.473,0.997],[0.538,0.996],[0.589,1.0],[0.522,0.978],[0.439,0.974],[0.461,0.971],[0.376,0.975],[0.366,0.949],[0.62,0.971],[0.658,0.949],[0.67,0.945],[0.69,0.92],[0.733,0.92],[0.74,0.92],[0.758,0.895],[0.791,0.854],[0.813,0.879],[0.857,0.832],[0.882,0.784],[0.889,0.796],[0.914,0.734],[0.946,0.726],[0.961,0.686],[0.935,0.642],[0.971,0.609],[1.0,0.594],[0.995,0.59],[0.981,0.521],[0.99,0.507],[0.999,0.482],[0.966,0.464],[0.98,0.423],[0.948,0.365],[0.935,0.35],[0.935,0.328],[0.897,0.288],[0.923,0.277],[0.943,0.26],[0.867,0.204],[0.872,0.197],[0.835,0.161],[0.818,0.149],[0.777,0.15],[0.762,0.12],[0.724,0.085],[0.72,0.102],[0.701,0.102],[0.661,0.044],[0.627,0.051],[0.589,0.0],[0.572,0.029],[0.543,0.055],[0.513,0.039],[0.471,0.012],[0.427,0.025],[0.435,0.039],[0.373,0.044],[0.373,0.01],[0.347,0.063],[0.291,0.063],[0.291,0.085],[0.241,0.114],[0.241,0.095],[0.199,0.143],[0.165,0.143],[0.142,0.165],[0.142,0.197],[0.123,0.201],[0.104,0.295],[0.078,0.231],[0.075,0.28],[0.041,0.318],[0.047,0.358],[0.034,0.406],[0.034,0.453],[0.038,0.464],[0.022,0.438],[0.003,0.507],[0.013,0.555],[0.044,0.53],[0.038,0.58],[0.034,0.65],[0.057,0.618],[0.063,0.661],[0.062,0.691],[0.078,0.733],[0.078,0.771],[0.123,0.8],[0.123,0.844],[0.133,0.847],[0.17,0.839],[0.189,0.869],[0.22,0.888],[0.268,0.905],[0.271,0.931],[0.3,0.942],[0.306,0.959]];

// (f) Jain
var jain1 = [[0.33,0.577],[0.333,0.555],[0.337,0.514],[0.344,0.489],[0.359,0.504],[0.388,0.566],[0.409,0.566],[0.39,0.54],[0.4,0.52],[0.395,0.5],[0.41,0.49],[0.405,0.47],[0.39,0.48],[0.415,0.46],[0.4,0.45],[0.42,0.44],[0.41,0.43],[0.395,0.42],[0.38,0.41],[0.37,0.4],[0.385,0.39],[0.4,0.38],[0.41,0.36],[0.425,0.37],[0.43,0.35],[0.36,0.37],[0.36,0.35],[0.375,0.355],[0.39,0.34],[0.395,0.32],[0.4,0.31],[0.41,0.33],[0.42,0.3],[0.4,0.29],[0.395,0.27],[0.41,0.27],[0.425,0.28],[0.44,0.26],[0.415,0.25],[0.44,0.36],[0.45,0.33],
[0.41,0.21],[0.42,0.2],[0.43,0.22],[0.44,0.24],[0.45,0.23],[0.46,0.21],[0.47,0.24],[0.48,0.22],[0.49,0.2],[0.5,0.23],[0.51,0.22],[0.52,0.2],[0.43,0.18],[0.44,0.16],[0.45,0.17],[0.46,0.15],[0.47,0.18],[0.48,0.16],[0.49,0.14],[0.5,0.17],[0.51,0.15],[0.52,0.13],[0.53,0.16],[0.54,0.14],[0.55,0.12],[0.47,0.12],[0.48,0.1],[0.49,0.08],[0.5,0.11],[0.51,0.09],[0.52,0.07],[0.53,0.1],[0.54,0.08],[0.55,0.06],[0.56,0.09],[0.57,0.07],[0.58,0.05],[0.56,0.16],[0.57,0.15],[0.58,0.13],[0.59,0.11],[0.6,0.13],[0.61,0.1],[0.62,0.12],[0.63,0.09],[0.55,0.04],[0.57,0.03],[0.59,0.02],[0.6,0.05],[0.61,0.03],[0.62,0.06],[0.63,0.04],[0.64,0.01],[0.65,0.0],[0.66,0.03],[0.64,0.07],[0.65,0.06],[0.66,0.1],[0.67,0.08],[0.68,0.05],[0.69,0.02],[0.7,0.06],[0.7,0.1],[0.71,0.13],[0.72,0.04],[0.73,0.08],[0.74,0.11],[0.73,0.14],[0.75,0.07],[0.76,0.13],[0.77,0.1],[0.78,0.16],[0.78,0.2],[0.79,0.12],[0.8,0.09],[0.8,0.15],[0.81,0.18],[0.82,0.14],[0.83,0.2],[0.83,0.11],[0.84,0.17],[0.85,0.21],[0.85,0.13],[0.86,0.19],[0.86,0.24],[0.87,0.16],[0.87,0.27],[0.88,0.22],[0.89,0.29],[0.88,0.18],[0.85,0.29],[0.84,0.26],[0.86,0.31],[0.87,0.33],[0.88,0.35],[0.89,0.32],[0.9,0.37],[0.9,0.34],[0.91,0.4],[0.91,0.31],[0.92,0.38],[0.92,0.42],[0.93,0.36],[0.93,0.45],[0.94,0.4],[0.94,0.47],[0.95,0.43],[0.95,0.5],[0.96,0.46],[0.96,0.53],[0.97,0.49],[0.97,0.56],[0.98,0.52],[0.98,0.57],[0.99,0.55],[1.0,0.5],[0.99,0.48],[0.92,0.58],[0.93,0.55],[0.94,0.56],[0.95,0.57],[0.9,0.4],[0.95,0.39],[0.96,0.43],[0.89,0.26],[0.92,0.46],[0.8,0.2],[0.76,0.17],[0.74,0.15],[0.72,0.09],[0.68,0.12],[0.66,0.13],[0.62,0.0],[0.6,0.0],[0.7,0.0],[0.54,0.11],[0.52,0.1],[0.5,0.13],[0.46,0.2],[0.44,0.2],[0.42,0.23],[0.38,0.44],[0.37,0.46],[0.4,0.43],[0.43,0.4],[0.42,0.42],[0.36,0.36],[0.39,0.46],[0.41,0.51],[0.4,0.56],[0.38,0.52],[0.35,0.49]];
var jain2 = [[0.232,0.993],[0.302,0.997],[0.312,0.996],[0.286,0.988],[0.267,0.959],[0.327,0.959],[0.327,0.946],[0.388,0.971],[0.399,0.959],[0.181,0.939],[0.222,0.905],[0.507,0.92],[0.413,0.893],[0.405,0.88],[0.416,0.88],[0.444,0.872],[0.454,0.898],[0.355,0.873],[0.352,0.854],[0.551,0.85],[0.542,0.832],[0.095,0.842],[0.108,0.861],[0.109,0.822],[0.308,0.825],[0.293,0.81],[0.257,0.796],[0.327,0.791],[0.337,0.791],[0.58,0.8],[0.13,0.777],[0.055,0.759],[0.08,0.759],[0.114,0.759],[0.139,0.759],[0.295,0.774],[0.305,0.766],[0.327,0.771],[0.422,0.777],[0.441,0.777],[0.457,0.771],[0.466,0.764],[0.507,0.777],[0.27,0.745],[0.327,0.745],[0.369,0.737],[0.39,0.733],[0.207,0.73],[0.051,0.73],[0.28,0.72],[0.409,0.715],[0.422,0.726],[0.475,0.747],[0.473,0.698],[0.523,0.693],[0.565,0.69],[0.561,0.676],[0.063,0.672],[0.089,0.686],[0.124,0.705],[0.156,0.679],[0.431,0.69],[0.6,0.676],[0.608,0.664],[0.453,0.647],[0.457,0.632],[0.549,0.645],[0.156,0.63],[0.08,0.635],[0.095,0.613],[0.109,0.601],[0.494,0.613],[0.527,0.609],[0.549,0.606],[0.513,0.572],[0.513,0.547],[0.532,0.543],[0.574,0.594],[0.619,0.587],[0.001,0.581],[0.169,0.543],[0.112,0.515],[0.101,0.511],[0.001,0.507],[0.063,0.501],[0.112,0.451],[0.156,0.463],[0.511,0.504],[0.559,0.489],[0.549,0.467],[0.574,0.482],[0.584,0.472],[0.66,0.508],[0.513,0.56]];

// (g) R15
var r15C1 = [[0.44,0.51],[0.45,0.49],[0.46,0.52],[0.47,0.5],[0.47,0.48],[0.48,0.53],[0.48,0.51],[0.49,0.49],[0.49,0.47],[0.5,0.52],[0.5,0.5],[0.51,0.48],[0.51,0.53],[0.5,0.49],[0.52,0.5],[0.46,0.5],[0.45,0.53],[0.47,0.535],[0.49,0.535],[0.5,0.48],[0.505,0.435],[0.5,0.44],[0.48,0.475],[0.46,0.48],[0.44,0.495],[0.485,0.49],[0.495,0.51],[0.515,0.485],[0.43,0.52],[0.47,0.515]];
var r15C2 = [[0.58,0.5],[0.6,0.48],[0.61,0.51],[0.62,0.49],[0.62,0.47],[0.63,0.52],[0.63,0.5],[0.64,0.48],[0.64,0.46],[0.65,0.51],[0.65,0.49],[0.66,0.47],[0.66,0.5],[0.67,0.48],[0.68,0.49],[0.61,0.46],[0.63,0.45],[0.64,0.44],[0.65,0.53],[0.64,0.56],[0.645,0.565],[0.655,0.52],[0.6,0.52],[0.59,0.49],[0.62,0.53],[0.66,0.45],[0.67,0.51],[0.61,0.49],[0.63,0.47],[0.65,0.47]];
var r15C3 = [[0.52,0.59],[0.54,0.62],[0.55,0.6],[0.55,0.64],[0.56,0.61],[0.56,0.58],[0.57,0.63],[0.57,0.6],[0.58,0.62],[0.58,0.57],[0.59,0.64],[0.59,0.6],[0.6,0.62],[0.6,0.58],[0.61,0.61],[0.56,0.66],[0.585,0.65],[0.62,0.67],[0.57,0.56],[0.55,0.57],[0.58,0.59],[0.565,0.62],[0.6,0.65],[0.59,0.58],[0.54,0.6],[0.61,0.59],[0.575,0.605]];
var r15C4 = [[0.4,0.66],[0.41,0.63],[0.42,0.61],[0.42,0.65],[0.43,0.63],[0.44,0.6],[0.44,0.64],[0.45,0.62],[0.45,0.66],[0.46,0.63],[0.46,0.6],[0.47,0.65],[0.47,0.62],[0.48,0.64],[0.48,0.6],[0.49,0.62],[0.5,0.61],[0.41,0.58],[0.43,0.59],[0.45,0.58],[0.47,0.67],[0.44,0.66],[0.42,0.63],[0.46,0.655],[0.485,0.615],[0.455,0.645],[0.43,0.61]];
var r15C5 = [[0.31,0.56],[0.32,0.58],[0.33,0.55],[0.33,0.59],[0.34,0.57],[0.34,0.54],[0.35,0.58],[0.35,0.55],[0.35,0.52],[0.36,0.57],[0.36,0.54],[0.37,0.59],[0.37,0.56],[0.37,0.53],[0.38,0.58],[0.38,0.55],[0.39,0.57],[0.34,0.51],[0.36,0.5],[0.33,0.53],[0.305,0.5],[0.36,0.49],[0.35,0.6],[0.32,0.55],[0.355,0.565],[0.345,0.545],[0.365,0.52]];
var r15C6 = [[0.28,0.44],[0.3,0.43],[0.31,0.41],[0.32,0.44],[0.32,0.42],[0.33,0.45],[0.33,0.43],[0.34,0.41],[0.34,0.44],[0.35,0.42],[0.35,0.46],[0.36,0.43],[0.36,0.4],[0.37,0.42],[0.38,0.44],[0.33,0.47],[0.34,0.39],[0.33,0.38],[0.36,0.39],[0.37,0.38],[0.38,0.38],[0.35,0.44],[0.345,0.425],[0.325,0.4],[0.31,0.45],[0.355,0.41]];
var r15C7 = [[0.4,0.35],[0.41,0.36],[0.42,0.34],[0.42,0.37],[0.43,0.35],[0.43,0.33],[0.44,0.36],[0.44,0.34],[0.44,0.38],[0.45,0.35],[0.45,0.32],[0.46,0.34],[0.46,0.36],[0.47,0.33],[0.48,0.35],[0.45,0.3],[0.46,0.31],[0.44,0.39],[0.5,0.34],[0.39,0.36],[0.43,0.37],[0.455,0.345],[0.435,0.32],[0.47,0.36],[0.415,0.33]];
var r15C8 = [[0.52,0.38],[0.53,0.39],[0.54,0.37],[0.55,0.4],[0.55,0.36],[0.56,0.38],[0.56,0.35],[0.57,0.39],[0.57,0.37],[0.58,0.41],[0.58,0.38],[0.58,0.36],[0.59,0.39],[0.59,0.37],[0.6,0.4],[0.6,0.36],[0.61,0.41],[0.62,0.38],[0.55,0.34],[0.57,0.33],[0.59,0.32],[0.53,0.4],[0.54,0.35],[0.585,0.395],[0.565,0.385],[0.6,0.38]];
var r15C9 = [];
var r15C10 = [[0.72,0.88],[0.72,0.85],[0.74,0.86],[0.74,0.84],[0.75,0.87],[0.75,0.83],[0.76,0.85],[0.76,0.88],[0.77,0.86],[0.77,0.84],[0.77,0.82],[0.78,0.87],[0.78,0.85],[0.78,0.83],[0.79,0.86],[0.79,0.84],[0.8,0.85],[0.8,0.83],[0.76,0.8],[0.77,0.81],[0.755,0.855],[0.765,0.865],[0.785,0.875],[0.745,0.82],[0.79,0.88],[0.805,0.86]];
var r15C11 = [[0.34,0.93],[0.35,0.95],[0.36,0.94],[0.36,0.96],[0.37,0.93],[0.37,0.95],[0.37,0.97],[0.38,0.94],[0.38,0.96],[0.38,1.0],[0.39,0.93],[0.39,0.95],[0.39,0.98],[0.4,0.94],[0.4,0.96],[0.41,0.95],[0.42,0.93],[0.395,0.9],[0.375,0.92],[0.36,0.92],[0.385,0.97],[0.365,0.95],[0.405,0.92],[0.35,0.93],[0.38,0.935]];
var r15C12 = [[0.02,0.7],[0.03,0.67],[0.04,0.66],[0.04,0.7],[0.05,0.72],[0.05,0.68],[0.06,0.7],[0.06,0.74],[0.06,0.67],[0.07,0.71],[0.07,0.69],[0.07,0.72],[0.08,0.7],[0.08,0.73],[0.08,0.67],[0.09,0.71],[0.09,0.68],[0.1,0.7],[0.05,0.76],[0.07,0.65],[0.125,0.73],[0.065,0.69],[0.075,0.705],[0.055,0.715],[0.085,0.685]];
var r15C13 = [[0.0,0.31],[0.02,0.31],[0.03,0.28],[0.04,0.29],[0.04,0.27],[0.05,0.3],[0.05,0.28],[0.06,0.26],[0.06,0.29],[0.06,0.31],[0.07,0.28],[0.07,0.32],[0.08,0.3],[0.08,0.27],[0.09,0.29],[0.09,0.32],[0.1,0.28],[0.11,0.29],[0.11,0.27],[0.12,0.28],[0.06,0.255],[0.045,0.265],[0.075,0.265],[0.055,0.285],[0.085,0.285]];
var r15C14 = [[0.31,0.02],[0.34,0.08],[0.35,0.04],[0.36,0.06],[0.36,0.02],[0.37,0.05],[0.37,0.0],[0.37,0.07],[0.38,0.03],[0.38,0.05],[0.39,0.08],[0.39,0.04],[0.39,0.01],[0.4,0.06],[0.4,0.03],[0.41,0.05],[0.41,0.02],[0.42,0.05],[0.38,0.0],[0.36,0.04],[0.395,0.06],[0.375,0.035],[0.355,0.05],[0.405,0.045]];
var r15C15 = [[0.72,0.12],[0.73,0.1],[0.74,0.13],[0.75,0.15],[0.75,0.12],[0.76,0.14],[0.76,0.09],[0.77,0.16],[0.77,0.13],[0.77,0.07],[0.78,0.15],[0.78,0.12],[0.78,0.17],[0.79,0.14],[0.79,0.11],[0.8,0.13],[0.8,0.16],[0.81,0.12],[0.81,0.15],[0.83,0.15],[0.76,0.08],[0.765,0.115],[0.785,0.105],[0.795,0.155],[0.775,0.135],[0.805,0.105]];

var r15Data = [r15C1, r15C2, r15C3, r15C4, r15C5, r15C6, r15C7, r15C8, r15C9, r15C10, r15C11, r15C12, r15C13, r15C14, r15C15];
var hsv15 = ['#ff0000','#ff6600','#ffcc00','#ccff00','#66ff00','#00ff00','#00ff66','#00ffcc','#00ccff','#0066ff','#0000ff','#6600ff','#cc00ff','#ff00cc','#ff0066'];

var captions = ['(a) 3L dataset', '(b) S3 dataset', '(c) Compound dataset', '(d) 2G dataset', '(e) 3Circles dataset', '(f) Jain dataset', '(g) R15 dataset'];

var axisColor = '#262626';
var grids = [], xAxes = [], yAxes = [], series = [], legends = [], graphics = [];

function addPanel(rect, xmin, xmax, xt, ymin, ymax, yt) {
  var gi = grids.length;
  grids.push({ left: rect[0], top: rect[1], width: rect[2], height: rect[3], show: false, containLabel: false });
  var line = { show: true, onZero: false, lineStyle: { color: axisColor, width: 1 } };
  function ax(pos, ticks, min, max, labels, isX) {
    return {
      gridIndex: gi, type: 'value', position: pos, min: min, max: max,
      axisLine: line,
      axisTick: { show: true, inside: true, length: 3, customValues: ticks, lineStyle: { color: axisColor, width: 0.8 } },
      axisLabel: { show: labels, customValues: ticks, fontSize: 7.8, color: axisColor, fontFamily: 'Liberation Sans',
                   margin: isX ? 6 : 4 },
      splitLine: { show: false }
    };
  }
  xAxes.push(ax('bottom', xt, xmin, xmax, true, true));
  xAxes.push(ax('top', xt, xmin, xmax, false, true));
  yAxes.push(ax('left', yt, ymin, ymax, true, false));
  yAxes.push(ax('right', yt, ymin, ymax, false, false));
  return gi;
}

function addSeries(gi, name, data, color, size) {
  series.push({
    type: 'scatter', name: name, xAxisIndex: gi * 2, yAxisIndex: gi * 2,
    data: data, symbol: 'circle', symbolSize: size, silent: true,
    itemStyle: { color: color, opacity: 1 }
  });
}

function addLegend(names, left, top, iconSize, padRight) {
  legends.push({
    orient: 'vertical', left: left, top: top, data: names, icon: 'circle',
    itemWidth: 20, itemHeight: iconSize, itemGap: 3, selectedMode: false,
    padding: [3, padRight, 2.5, 6.5],
    borderColor: '#1a1a1a', borderWidth: 1, backgroundColor: '#ffffff',
    formatter: function (n) { return n.slice(1); },
    textStyle: { fontSize: 7.5, lineHeight: 8, color: '#000', fontFamily: 'Liberation Sans' }
  });
}

function addCaption(text, x, y) {
  graphics.push({ type: 'text', x: x, y: y, silent: true,
    style: { text: text, font: '22px "Liberation Serif"', fill: '#000', textAlign: 'center', textVerticalAlign: 'middle' } });
}

// (a) 3L
var gA = addPanel([204.75, 2.7, 291.5, 229], -0.05, 1.05, ticks01, 0, 1, ticks01);
addSeries(gA, 'a1', l3Red, '#ff0000', 3.5);
addSeries(gA, 'a2', l3Green, '#00ff00', 3.5);
addSeries(gA, 'a3', l3Blue, '#0000ff', 3.5);
addLegend(['a1', 'a2', 'a3'], 455, 2.7, 3.5, 4);
addCaption(captions[0], 343, 291);

// (b) S3
var gB = addPanel([15.7, 342.3, 288.3, 226.7], -5, 40, s3XTicks, -4, 10, s3YTicks);
addSeries(gB, 'b1', s3Red, '#ff0000', 2.6);
addSeries(gB, 'b2', s3Green, '#00ff00', 2.6);
addSeries(gB, 'b3', s3Blue, '#0000ff', 2.2);
addLegend(['b1', 'b2', 'b3'], 266, 342.3, 2, 4);
addCaption(captions[1], 154, 628);

// (c) Compound
var gC = addPanel([394.85, 342.3, 289.3, 227], -0.05, 1.05, ticks01, 0, 1, ticks01);
var cmpData = [cmp1, cmp2, cmp3, cmp4, cmp5, cmp6];
var cmpColors = ['#ff0000', '#ffff00', '#00ff00', '#00ffff', '#0000ff', '#ff00ff'];
cmpData.forEach(function (d, i) { addSeries(gC, 'c' + (i + 1), d, cmpColors[i], 4.5); });
addLegend(['c1', 'c2', 'c3', 'c4', 'c5', 'c6'], 544, 497.7, 4.5, 4);
addCaption(captions[2], 533, 628);

// (d) 2G
var gD = addPanel([15.85, 680, 289.3, 228.3], -0.05, 1.05, ticks01, 0, 1, ticks01);
addSeries(gD, 'd1', g2Red, '#ff0000', 3.5);
addSeries(gD, 'd2', g2Cyan, '#00ffff', 3.5);
addLegend(['d1', 'd2'], 261, 685, 3.5, 4);
addCaption(captions[3], 153, 967);

// (e) 3Circles
var gE = addPanel([394.5, 680, 289.7, 228.3], -0.05, 1.05, ticks01, 0, 1, ticks01);
addSeries(gE, 'e1', circ1, '#ff0000', 4.5);
addSeries(gE, 'e2', circ2, '#00ff00', 4.5);
addSeries(gE, 'e3', circ3, '#0000ff', 4.5);
addLegend(['e1', 'e2', 'e3'], 641, 685, 4.5, 4);
addCaption(captions[4], 532, 967);

// (f) Jain
var gF = addPanel([15.85, 1018.3, 289.3, 228.4], -0.05, 1.05, ticks01, 0, 1, ticks01);
addSeries(gF, 'f1', jain1, '#ff0000', 4.5);
addSeries(gF, 'f2', jain2, '#00ffff', 4.5);
addLegend(['f1', 'f2'], 261, 1023.3, 4.5, 4);
addCaption(captions[5], 153, 1304);

// (g) R15
var gG = addPanel([394.5, 1018.3, 289.7, 228.4], -0.05, 1.05, ticks01, 0, 1, ticks01);
var r15Names = [];
r15Data.forEach(function (d, i) {
  addSeries(gG, 'g' + (i + 1), d, hsv15[i], 3.5);
  r15Names.push('g' + (i + 1));
});
addLegend(r15Names, 633.3, 1049, 3.5, 1);
addCaption(captions[6], 533, 1304);

var myChart = echarts.init(document.getElementById('main'));
var option = {
  animation: false,
  backgroundColor: '#ffffff',
  grid: grids,
  xAxis: xAxes,
  yAxis: yAxes,
  legend: legends,
  series: series,
  graphic: graphics
};
myChart.setOption(option);
</script>
</body>
</html>
